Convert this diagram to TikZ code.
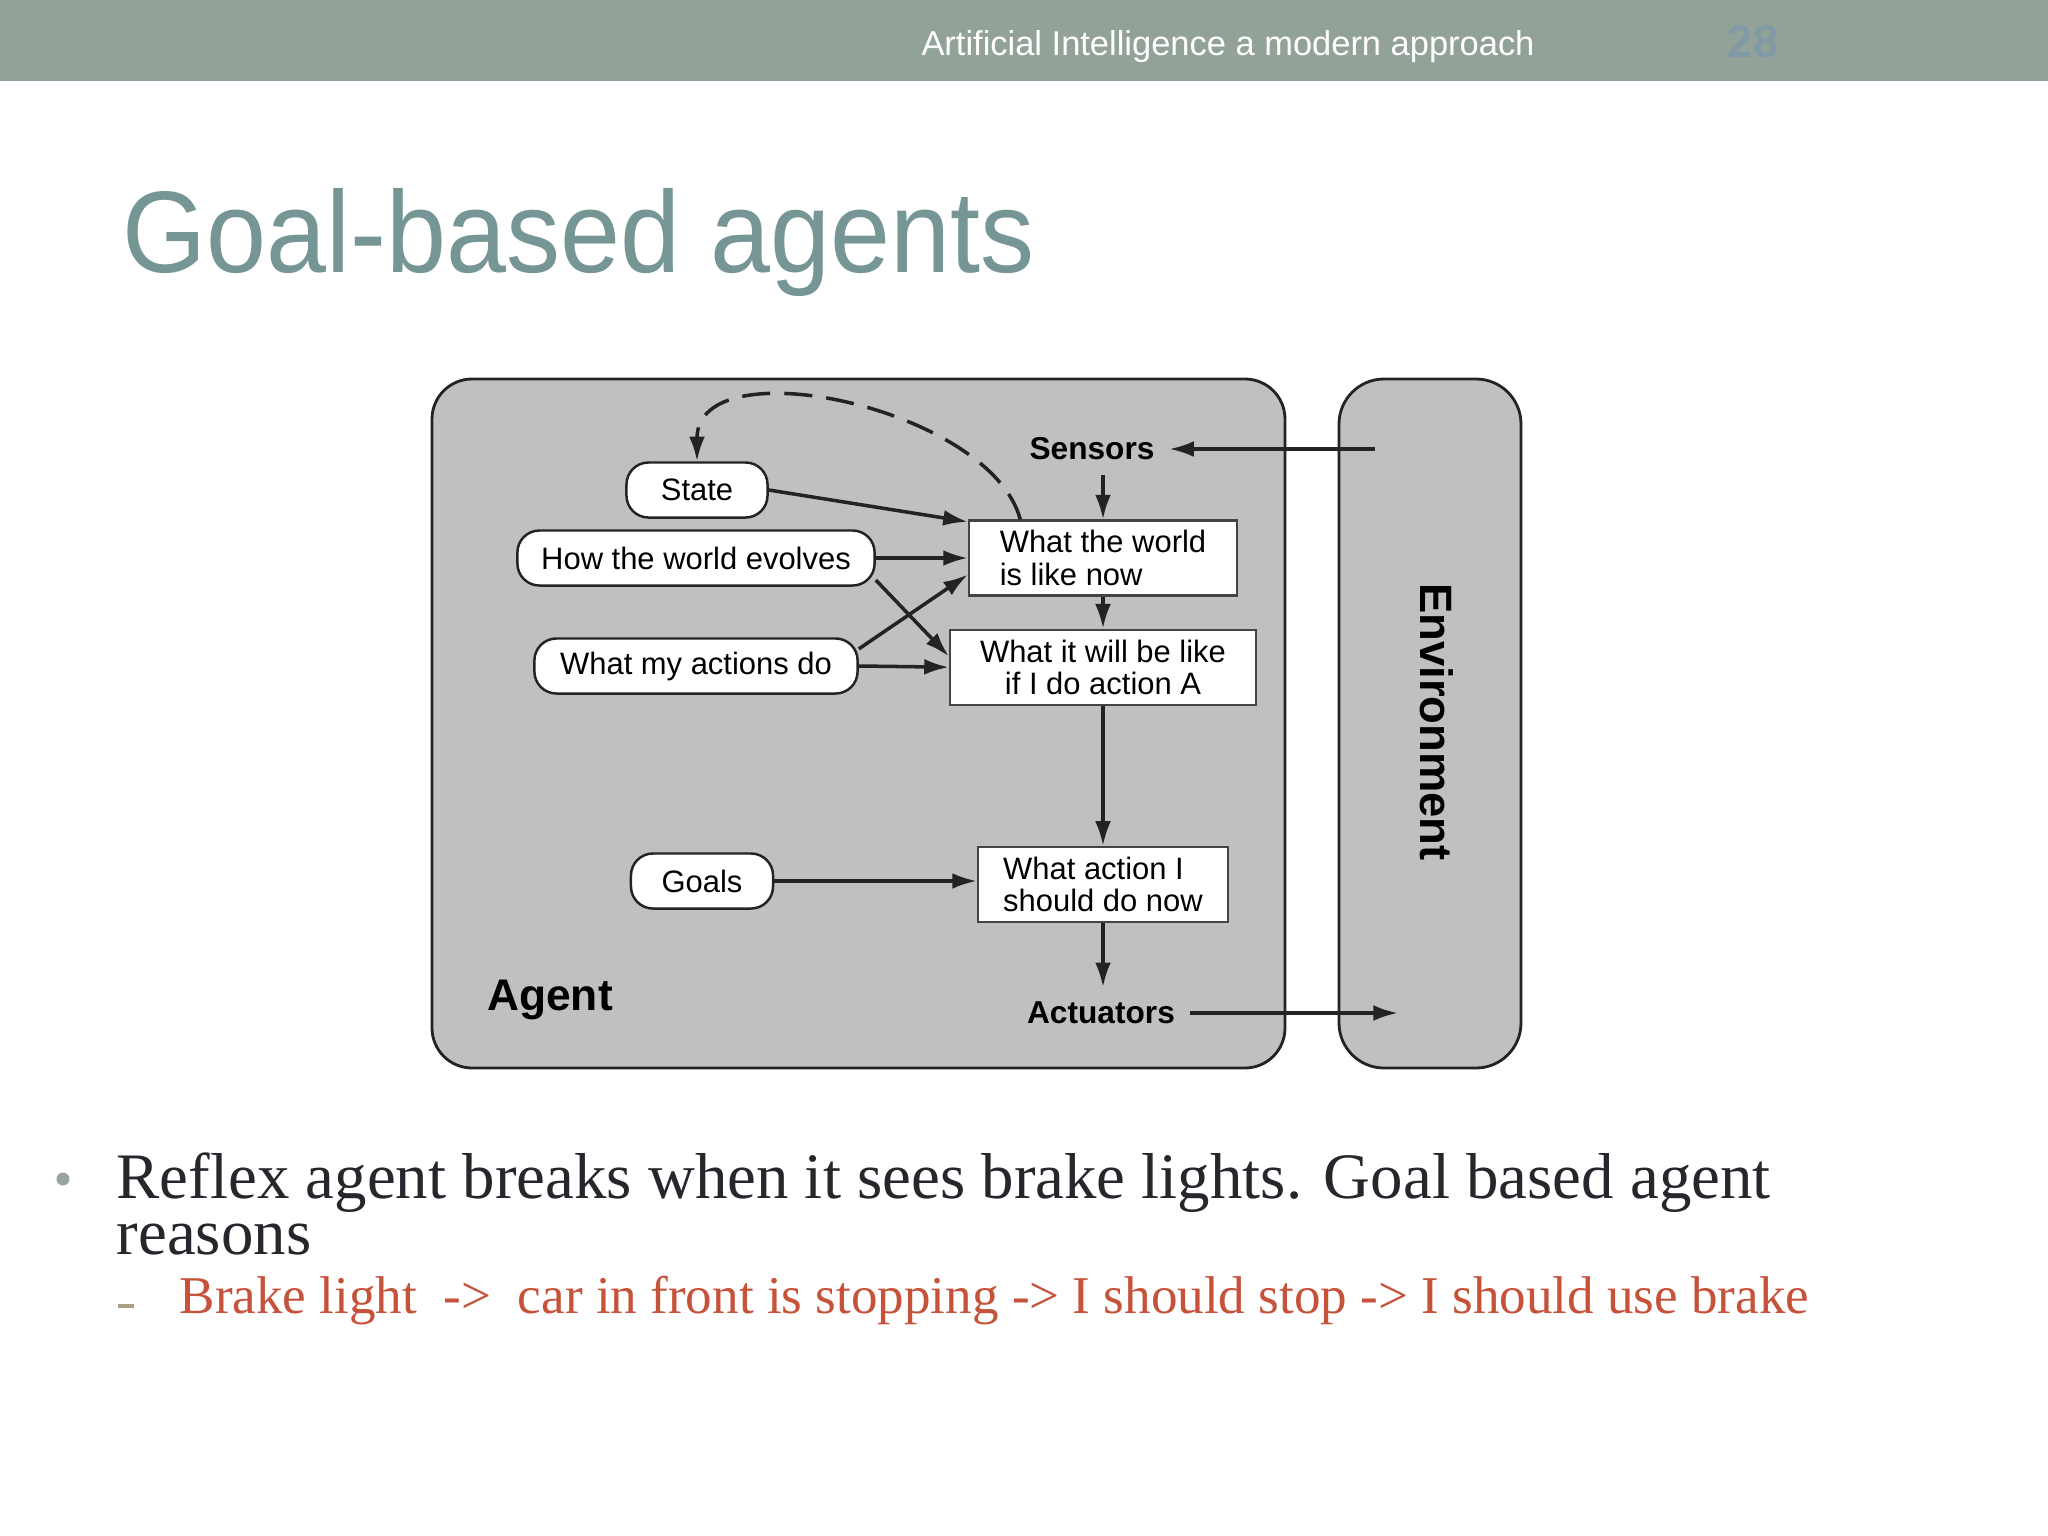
\documentclass[tikz,border=0pt]{standalone}
\usepackage{fontspec}
\setmainfont{Liberation Serif}
\setsansfont{Liberation Sans}
\newfontfamily\titlefont[FakeStretch=0.93]{Liberation Sans}
\usetikzlibrary{arrows.meta, positioning, calc}
\definecolor{aibar}{RGB}{147,162,152}
\definecolor{aititle}{RGB}{117,150,148}
\definecolor{aipage}{RGB}{128,155,165}
\definecolor{aigray}{RGB}{192,192,192}
\definecolor{ailine}{RGB}{35,35,35}
\definecolor{aitext}{RGB}{38,38,44}
\definecolor{aired}{RGB}{198,82,58}
\definecolor{aidot}{RGB}{150,165,158}
\definecolor{aidash}{RGB}{170,160,130}

\begin{document}
\begin{tikzpicture}[
  x=0.01cm, y=-0.01cm,
  panel/.style={draw=ailine, fill=aigray, line width=0.8pt},
  oval/.style={rectangle, rounded corners=0.22cm, draw=ailine, fill=white,
              line width=0.7pt, minimum height=0.55cm, inner sep=2pt,
              font=\sffamily\fontsize{8.8}{9.2}\selectfont},
  infobox/.style={rectangle, draw=ailine!85, fill=white, line width=0.6pt,
              minimum height=0.75cm, inner sep=2pt, align=left,
              font=\sffamily\fontsize{8.8}{9.2}\selectfont},
  tag/.style={font=\sffamily\bfseries\fontsize{9}{10}\selectfont, inner sep=4pt},
  arrow/.style={-{Latex[length=7pt,width=4.5pt]}, line width=1pt, color=ailine},
]
  \useasboundingbox (0,0) rectangle (2048,1536);
  \fill[white] (0,0) rectangle (2048,1536);

  % header and title
  \fill[aibar] (0,0) rectangle (2048,81);
  \node[anchor=base, text=white, font=\sffamily\fontsize{9.8}{11}\selectfont, inner sep=0pt]
    (head) at (1228,55) {Artificial Intelligence a modern approach};
  \node[anchor=base, text=aipage, font=\sffamily\bfseries\fontsize{13}{14}\selectfont, inner sep=0pt]
    (page) at (1753,57) {28};
  \node[anchor=base west, text=aititle, font=\titlefont\fontsize{33}{36}\selectfont, inner sep=0pt]
    (title) at (122,272) {Goal-based agents};

  % agent and environment
  \draw[panel, rounded corners=0.4cm] (432,379) rectangle (1285,1068);
  \draw[panel, rounded corners=0.45cm] (1339,379) rectangle (1521,1068);
  \node[rotate=-90, font=\sffamily\bfseries\fontsize{12.9}{14}\selectfont] (env) at (1437,722) {Environment};
  \node[font=\sffamily\bfseries\fontsize{12.6}{14}\selectfont] (agent) at (550,1000) {Agent};

  \node[oval, minimum width=1.41cm] (state) at (697,490) {State};
  \node[oval, minimum width=3.57cm] (evolves) at (696,558) {How the world evolves};
  \node[oval, minimum width=3.23cm] (actions) at (696,666) {What my actions do};
  \node[oval, minimum width=1.42cm] (goals) at (702,881) {Goals};

  \node[infobox, minimum width=2.68cm] (wnow) at (1103,558) {What the world\\is like now};
  \node[infobox, minimum width=3.06cm, align=center, below=0.32cm of wnow] (willbe) {What it will be like\\if I do action A};
  \node[infobox, minimum width=2.50cm, below=1.40cm of willbe] (act) {What action I\\should do now};

  \node[tag] (sensors) at (1092,449) {Sensors};
  \node[tag] (actuators) at (1101,1013) {Actuators};
  \coordinate (envin) at (1375,451);
  \coordinate (envout) at (1398,1015);

  % connectors
  \draw[arrow] (envin |- sensors.east) -- (sensors.east);
  \draw[arrow] (sensors.south -| wnow.north) -- (wnow.north);
  \draw[arrow] (state.east) -- (wnow.165);
  \draw[arrow] (evolves.east) -- (wnow.west);
  \draw[arrow] (evolves.-7) -- (willbe.176);
  \draw[arrow] (actions.6) -- (wnow.187);
  \draw[arrow] (actions.east) -- (willbe.west);
  \draw[arrow] (wnow.south) -- (willbe.north);
  \draw[arrow] (willbe.south) -- (act.north);
  \draw[arrow] (goals.east) -- (goals.east -| act.west);
  \draw[arrow] (act.south) -- (actuators.north -| act.south);
  \draw[arrow] (actuators.east) -- (actuators.east -| envout);
  \draw[arrow, dashed, dash pattern=on 8pt off 4pt] (wnow.155) to[out=105, in=90, looseness=0.9] (state.north);

  % bullets
  \fill[aidot] (63,1179) circle (6.5);
  \node[anchor=north west, text=aitext, align=left, font=\fontsize{18.45}{16}\selectfont, inner sep=0pt]
    (reflex) at (116,1152) {Reflex agent breaks when it sees brake lights. Goal based agent\\reasons};
  \draw[aidash, line width=1pt] (118,1306) -- (134,1306);
  \node[anchor=base west, text=aired, font=\fontsize{15.1}{17}\selectfont, inner sep=0pt]
    (chain) at (179,1313) {Brake light~~->~~car in front is stopping -> I should stop -> I should use brake};
\end{tikzpicture}
\end{document}
